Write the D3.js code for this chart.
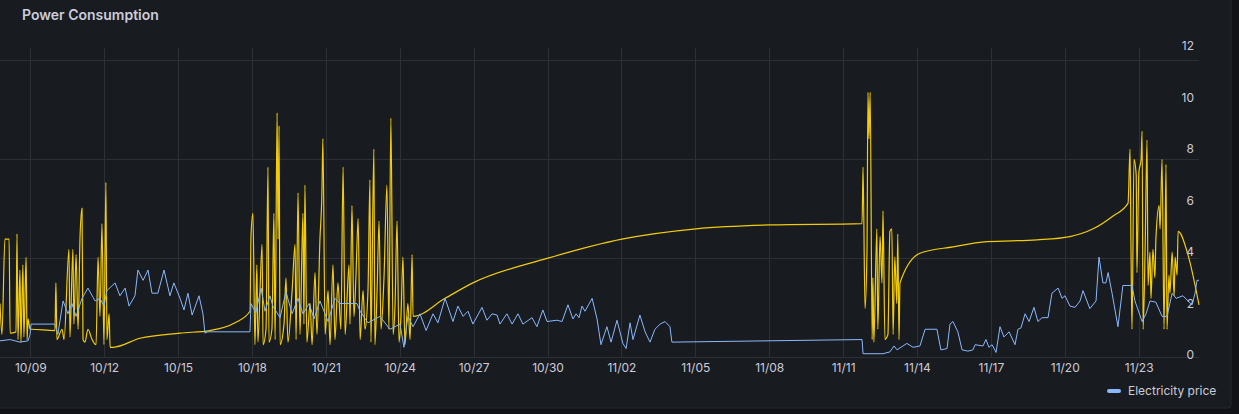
<!DOCTYPE html>
<html>
<head>
<meta charset="utf-8">
<script src="https://cdn.jsdelivr.net/npm/d3@7"></script>
<style>
  body { margin: 0; background: #111217; }
  svg { display: block; font-family: Inter, "Noto Sans", sans-serif; }
</style>
</head>
<body>
<div class="chart"></div>
<script>
// time is day-of-October (32 = 11/01)
const priceDays = [7.77,8.18,8.58,8.91,8.99,9.03,10.0,10.12,10.33,10.53,10.69,10.86,11.1,11.34,11.63,11.83,11.99,12.11,12.44,12.64,12.85,13.01,13.25,13.37,13.58,13.78,13.94,14.18,14.43,14.67,14.83,15.08,15.24,15.4,15.57,15.85,16.01,16.09,16.21,17.92,17.96,18.16,18.37,18.53,18.73,18.85,19.14,19.38,19.63,19.87,20.07,20.32,20.52,20.76,21.09,21.37,21.57,22.26,22.39,22.71,23.2,23.6,24.01,24.17,24.33,24.54,24.82,25.07,25.35,25.55,25.84,26.16,26.36,26.57,26.77,26.97,27.34,27.54,27.75,27.95,28.07,28.35,28.56,28.8,29.0,29.37,29.57,29.81,29.98,30.38,30.59,30.83,31.03,31.16,31.28,31.4,31.52,31.81,32.01,32.17,32.41,32.58,32.82,33.06,33.19,33.35,33.47,33.75,33.96,34.16,34.36,34.57,34.77,34.97,35.05,42.77,42.81,43.62,43.9,44.07,44.19,44.43,44.59,44.84,45.12,45.33,45.81,45.97,46.22,46.34,46.46,46.66,46.83,47.07,47.27,47.36,47.68,47.8,47.92,48.05,48.21,48.37,48.53,48.74,48.98,49.1,49.22,49.39,49.55,49.75,49.91,50.08,50.32,50.48,50.73,50.89,51.01,51.21,51.42,51.62,51.74,52.02,52.27,52.39,52.55,52.67,52.76,52.92,53.16,53.36,53.73,53.85,54.14,54.3,54.46,54.7,54.95,55.15,55.36,55.52,55.8,56.0,56.17,56.29,56.37,56.45];
const priceValues = [0.55,0.6,0.5,0.55,0.8,1.2,1.2,0.8,2.1,1.6,2.0,1.5,2.2,2.6,2.1,2.2,1.9,2.5,2.8,2.3,2.6,1.9,2.3,3.3,2.9,3.3,2.4,2.4,3.3,2.3,2.8,2.2,1.75,2.4,1.55,2.3,1.6,0.85,0.9,0.9,2.0,1.65,2.6,1.7,2.3,1.9,1.45,2.45,1.6,2.2,1.6,2.0,1.4,2.1,1.3,2.2,2.0,2.0,1.7,1.25,1.5,1.0,1.2,0.3,1.5,1.1,1.6,0.95,1.6,1.25,2.2,1.3,1.9,1.5,1.7,1.2,1.85,1.35,1.6,1.55,1.2,1.6,1.2,1.6,1.2,1.45,1.1,1.75,1.3,1.35,1.3,1.95,1.4,1.6,1.45,1.9,1.7,2.2,1.4,0.4,1.1,0.5,1.35,0.45,0.25,1.25,0.6,1.55,0.9,0.5,1.0,1.2,1.3,1.1,0.5,0.6,0.05,0.05,0.12,0.35,0.2,0.35,0.45,0.3,0.35,1.0,1.0,0.2,0.25,1.2,1.3,0.9,0.2,0.15,0.2,0.4,0.35,0.6,0.3,0.4,0.1,1.1,0.7,0.9,0.4,1.0,1.05,1.6,1.3,1.85,1.3,1.45,1.45,2.4,2.6,2.2,2.3,1.9,1.85,2.1,2.5,1.8,2.1,3.8,2.8,2.8,3.2,2.4,1.1,2.7,2.7,2.1,1.3,1.6,2.1,2.05,1.5,1.5,2.4,2.2,2.3,2.1,1.95,2.4,2.9,2.9];

const powerDays = [7.77,7.85,7.97,8.14,8.18,8.42,8.46,8.5,8.58,8.62,8.7,8.74,8.83,8.87,8.91,8.99,9.03,10.0,10.04,10.08,10.29,10.37,10.57,10.61,10.73,10.77,10.86,10.94,11.02,11.1,11.14,11.22,11.34,11.51,11.67,11.75,11.83,11.91,11.99,12.07,12.11,12.2,12.24,12.36,
  13.45,15.08,16.3,17.31,17.92,
  17.96,18.04,18.12,18.2,18.24,18.41,18.45,18.57,18.65,18.69,18.81,18.89,18.94,19.02,19.06,19.1,19.14,19.3,19.38,19.46,19.63,19.75,19.79,19.87,19.95,20.07,20.11,20.15,20.23,20.36,20.44,20.56,20.64,20.76,20.84,20.88,20.97,21.09,21.17,21.29,21.37,21.49,21.61,21.7,21.78,21.94,21.98,22.06,22.14,22.22,22.31,22.39,22.51,22.59,22.71,22.79,22.83,22.95,22.99,23.08,23.16,23.24,23.36,23.48,23.56,23.64,23.73,23.81,23.89,23.97,24.05,24.13,24.21,24.33,24.42,24.5,24.54,
  25.84,26.97,29.98,33.02,36.03,39.03,42.77,
  42.81,42.89,42.97,43.01,43.05,43.1,43.18,43.21,43.25,43.37,43.41,43.5,43.58,43.62,43.7,43.78,43.82,43.9,43.98,44.03,44.1,44.18,44.22,44.27,44.31,
  45.12,46.46,47.84,49.87,51.21,52.15,52.96,53.57,
  53.65,53.69,53.73,53.81,53.9,53.93,54.01,54.1,54.14,54.18,54.26,54.34,54.38,54.46,54.5,54.58,54.66,54.7,54.83,54.87,54.95,55.03,55.11,55.15,55.23,55.27,55.36,55.44,55.48,55.56,55.6,
  56.0,56.45];
const powerValues = [2.0,0.8,4.5,4.5,0.85,0.9,4.7,0.6,3.3,0.5,3.5,0.7,3.8,0.6,1.4,1.0,1.0,0.95,2.8,0.6,1.0,0.6,4.1,0.7,4.1,1.2,3.9,1.0,4.6,5.7,0.6,0.5,1.0,0.6,0.4,3.8,1.5,5.1,0.4,6.7,0.6,1.6,0.3,0.3,
  0.65,0.85,0.95,1.25,1.7,
  4.6,5.5,0.4,3.5,0.5,4.3,0.4,1.0,7.3,0.5,1.0,5.5,0.6,9.4,4.5,8.9,0.4,1.2,3.0,0.5,2.5,4.3,0.6,6.3,0.8,5.5,1.2,6.6,0.5,2.0,0.4,3.2,0.8,4.5,6.3,8.4,0.8,2.5,0.4,3.5,0.6,2.8,1.0,7.3,0.8,3.5,1.2,5.8,1.5,3.0,5.3,0.6,2.5,1.0,2.5,6.8,0.5,8.0,0.4,2.5,5.2,1.0,3.0,6.6,1.0,9.2,0.8,2.0,5.2,0.5,1.5,3.8,0.4,2.0,0.6,3.9,1.5,
  2.2,2.8,3.75,4.5,4.9,5.05,5.1,
  7.3,1.8,4.0,10.2,8.4,10.2,0.6,3.0,0.5,4.9,1.0,4.6,2.8,5.6,0.6,0.7,0.8,4.8,4.9,0.8,3.8,2.0,4.7,0.6,2.8,
  3.95,4.2,4.4,4.47,4.6,4.9,5.4,5.9,
  8.0,4.0,1.0,7.6,7.0,3.2,7.1,7.6,8.7,1.0,4.0,8.35,2.7,4.0,2.2,4.1,3.0,4.5,5.8,4.9,7.6,1.0,7.4,1.0,3.1,2.4,4.0,2.3,3.8,3.1,4.8,
  3.9,1.95];

const xTickDays = [9, 12, 15, 18, 21, 24, 27, 30, 33, 36, 39, 42, 45, 48, 51, 54];
const yTickValues = [0, 2, 4, 6, 8, 10, 12];
const gridValues = [0, 2, 4, 6, 8, 10, 12];

const fullWidth = 1239;
const fullHeight = 414;
const margin = {top: 48, right: 40, bottom: 57, left: 0};
const plotRight = fullWidth - margin.right;
const plotBottom = fullHeight - margin.bottom;

const toDate = d => new Date(Date.UTC(2023, 9, 1) + (d - 1) * 864e5);

const svg = d3.select('.chart')
    .append('svg')
        .attr('width', fullWidth)
        .attr('height', fullHeight);

svg.append('rect')
    .attr('width', fullWidth).attr('height', fullHeight)
    .attr('fill', '#111217');
svg.append('rect')
    .attr('x', -5).attr('y', -5)
    .attr('width', 1236).attr('height', 413)
    .attr('rx', 3)
    .attr('fill', '#181b1f')
    .attr('stroke', '#25282d');

svg.append('text')
    .attr('x', 22).attr('y', 20)
    .attr('fill', '#ccccdc')
    .attr('font-size', 14)
    .attr('font-weight', 600)
    .text('Power Consumption');

const xScale = d3.scaleUtc()
    .domain([toDate(7.77), toDate(56.45)])
    .range([0, plotRight]);

// value scale for the labelled right axis
const yScale = d3.scaleLinear()
    .domain([0, 12])
    .range([355, 46]);

// hidden left axis that sets the horizontal grid lines
const gridScale = d3.scaleLinear()
    .domain([0, 12])
    .range([357, -237]);

const grid = svg.append('g').attr('stroke', '#2c3036').attr('stroke-width', 1);
grid.selectAll('line.h')
    .data(gridValues.filter(v => gridScale(v) >= margin.top))
    .enter().append('line')
    .attr('x1', 0).attr('x2', plotRight)
    .attr('y1', d => gridScale(d) + 0.5).attr('y2', d => gridScale(d) + 0.5);
grid.selectAll('line.v')
    .data(xTickDays)
    .enter().append('line')
    .attr('x1', d => Math.round(xScale(toDate(d))) + 0.5)
    .attr('x2', d => Math.round(xScale(toDate(d))) + 0.5)
    .attr('y1', margin.top).attr('y2', plotBottom);

const xAxis = d3.axisBottom(xScale)
    .tickValues(xTickDays.map(toDate))
    .tickFormat(d3.utcFormat('%m/%d'))
    .tickSize(0)
    .tickPadding(6);
svg.append('g')
    .attr('transform', `translate(0, ${plotBottom})`)
    .call(xAxis)
    .call(g => g.select('.domain').remove())
    .selectAll('text')
    .attr('fill', '#ccccdc')
    .attr('font-size', 12)
    .attr('font-family', 'Inter, sans-serif');

const yAxis = d3.axisRight(yScale)
    .tickValues(yTickValues)
    .tickSize(0)
    .tickPadding(0);
svg.append('g')
    .attr('transform', `translate(1194, 0)`)
    .call(yAxis)
    .call(g => g.select('.domain').remove())
    .selectAll('text')
    .attr('text-anchor', 'end')
    .attr('fill', '#ccccdc')
    .attr('font-size', 12)
    .attr('font-family', 'Inter, sans-serif');

const power = powerDays.map((d, i) => ({t: toDate(d), v: powerValues[i]}));
const price = priceDays.map((d, i) => ({t: toDate(d), v: priceValues[i]}));

const line = d3.line()
    .x(d => xScale(d.t))
    .y(d => yScale(d.v));

svg.append('path')
    .datum(power)
    .attr('fill', 'none')
    .attr('stroke', '#f2cc0c')
    .attr('stroke-width', 1.2)
    .attr('d', line.curve(d3.curveMonotoneX));

svg.append('path')
    .datum(price)
    .attr('fill', 'none')
    .attr('stroke', '#8ab8ff')
    .attr('stroke-width', 1)
    .attr('d', line.curve(d3.curveLinear));

// legend
const legend = svg.append('g').attr('transform', 'translate(1107, 391)');
legend.append('rect')
    .attr('width', 14).attr('height', 4).attr('y', -2).attr('rx', 2)
    .attr('fill', '#8ab8ff');
legend.append('text')
    .attr('x', 21).attr('y', 4)
    .attr('fill', '#ccccdc')
    .attr('font-size', 12)
    .text('Electricity price');
</script>
</body>
</html>
